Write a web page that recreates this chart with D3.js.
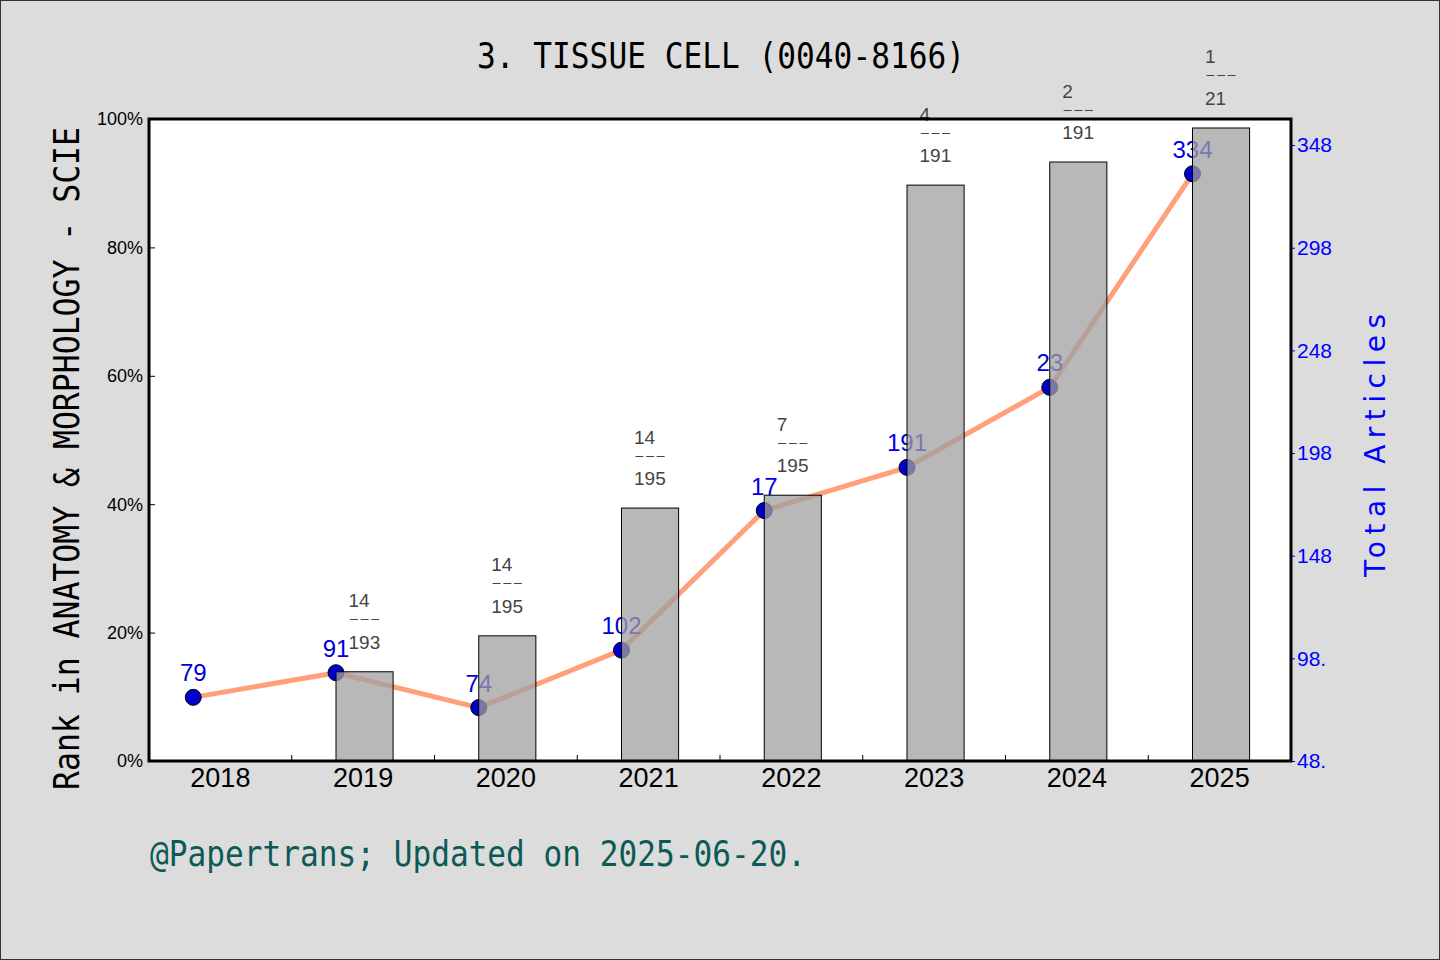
<!DOCTYPE html>
<meta charset="utf-8">
<style>
body { margin: 0; background: #dcdcdc; }
svg { display: block; }
.mono { font-family: "DejaVu Sans Mono", monospace; }
.sans { font-family: "Liberation Sans", Arial, sans-serif; }
</style>
<body>
<script src="https://cdn.jsdelivr.net/npm/d3@7"></script>
<script>

// categories
const years = [2018, 2019, 2020, 2021, 2022, 2023, 2024, 2025];
// bar height, % (left axis)
const rankPct = [0, 13.9, 19.5, 39.4, 41.4, 89.7, 93.3, 98.6];
// rank / total in category, shown above bars
const rankPos   = [null, 14, 14, 14, 7, 4, 2, 1];
const rankTotal = [null, 193, 195, 195, 195, 191, 191, 21];
// total articles (right axis), and the label texts as printed
const articles    = [79, 91, 74, 102, 170, 191, 230, 334];
const articleText = ["79", "91", "74", "102", "17", "191", "23", "334"];
// tick values
const leftTicks  = [0, 20, 40, 60, 80, 100];
const rightTicks = [48, 98, 148, 198, 248, 298, 348];

const W = 1440, H = 960;
const plot = {left: 149, right: 1291, top: 119, bottom: 761};

const svg = d3.select("body").append("svg")
    .attr("width", W)
    .attr("height", H);

svg.append("rect")
    .attr("x", 0.5).attr("y", 0.5)
    .attr("width", W - 1).attr("height", H - 1)
    .attr("fill", "#dcdcdc")
    .attr("stroke", "#333");

var x  = d3.scaleBand().domain(years).range([plot.left, plot.right]).padding(0);
var yL = d3.scaleLinear().domain([0, 100]).range([plot.bottom, plot.top]);
var yR = d3.scaleLinear().domain([48, 360.7]).range([plot.bottom, plot.top]);

var bw = x.bandwidth();
var cx = d => x(d) + bw / 2;
var px = d => cx(d) - 0.19 * bw;   // line points sit on bar left edge

// plot area
svg.append("rect")
    .attr("x", plot.left).attr("y", plot.top)
    .attr("width", plot.right - plot.left)
    .attr("height", plot.bottom - plot.top)
    .attr("fill", "#fff");

// left axis (ticks inside)
var leftAxis = d3.axisRight(yL)
    .tickValues(leftTicks)
    .tickSize(6)
    .tickFormat(d => "");
svg.append("g")
    .attr("transform", "translate(" + plot.left + ",0)")
    .call(leftAxis)
    .call(g => g.select(".domain").remove());

svg.append("g").selectAll("text")
    .data(leftTicks)
    .enter().append("text")
    .attr("class", "sans")
    .attr("x", plot.left - 6)
    .attr("y", d => yL(d))
    .attr("dy", "0.35em")
    .attr("text-anchor", "end")
    .style("font-size", "18px")
    .text(d => d + "%");

// right axis (ticks outside, blue)
var rightAxis = d3.axisRight(yR)
    .tickValues(rightTicks)
    .tickSize(4)
    .tickPadding(2)
    .tickFormat(d => (d.toFixed(1)).slice(0, 3));
var ra = svg.append("g")
    .attr("transform", "translate(" + plot.right + ",0)")
    .call(rightAxis);
ra.select(".domain").remove();
ra.selectAll("line").attr("stroke", "blue");
ra.selectAll("text")
    .attr("class", "sans")
    .attr("fill", "blue")
    .style("font-size", "21px");

// x axis: minor ticks between years, labels centred
svg.append("g").selectAll("line")
    .data(years.slice(1))
    .enter().append("line")
    .attr("x1", d => x(d)).attr("x2", d => x(d))
    .attr("y1", plot.bottom).attr("y2", plot.bottom - 6)
    .attr("stroke", "#000");

svg.append("g").selectAll("text")
    .data(years)
    .enter().append("text")
    .attr("class", "sans")
    .attr("x", d => cx(d))
    .attr("y", 787)
    .attr("text-anchor", "middle")
    .style("font-size", "27px")
    .text(d => d);

// line of total articles
var pts = years.map((d, i) => ({year: d, v: articles[i], t: articleText[i]}));

svg.append("path")
    .datum(pts)
    .attr("fill", "none")
    .attr("stroke", "#ffa07a")
    .attr("stroke-width", 5)
    .attr("d", d3.line().x(d => px(d.year)).y(d => yR(d.v)));

svg.append("g").selectAll("circle")
    .data(pts)
    .enter().append("circle")
    .attr("cx", d => px(d.year))
    .attr("cy", d => yR(d.v))
    .attr("r", 8)
    .attr("fill", "#0000cc")
    .attr("stroke", "#000")
    .attr("stroke-width", 1);

svg.append("g").selectAll("text")
    .data(pts)
    .enter().append("text")
    .attr("class", "sans")
    .attr("x", d => px(d.year))
    .attr("y", d => yR(d.v) - 16)
    .attr("text-anchor", "middle")
    .attr("fill", "#0000dd")
    .style("font-size", "24px")
    .text(d => d.t);

// bars drawn over the line, semi transparent
var bars = years.map((d, i) => ({year: d, v: rankPct[i], r: rankPos[i], n: rankTotal[i]}))
    .filter(d => d.v > 0);

svg.append("g").selectAll("rect")
    .data(bars)
    .enter().append("rect")
    .attr("x", d => px(d.year))
    .attr("y", d => yL(d.v))
    .attr("width", 0.4 * bw)
    .attr("height", d => yL(0) - yL(d.v))
    .attr("fill", "#a0a0a0")
    .attr("fill-opacity", 0.75)
    .attr("stroke", "#000")
    .attr("stroke-width", 1);

// rank labels above bars: rank, dashes, total
var lab = svg.append("g").selectAll("g")
    .data(bars)
    .enter().append("g")
    .attr("class", "sans")
    .attr("transform", d => "translate(" + (px(d.year) + 0.2 * bw - 16) + "," + (yL(d.v) - 23) + ")")
    .attr("fill", "#444");

lab.append("text").attr("y", -41.5)
    .style("font-size", "19px")
    .text(d => d.r);
lab.append("text").attr("y", -25.5)
    .style("font-size", "12px")
    .attr("textLength", 32).attr("lengthAdjust", "spacingAndGlyphs")
    .text("---");
lab.append("text").attr("y", 0)
    .style("font-size", "19px")
    .text(d => d.n);

// frame
svg.append("rect")
    .attr("x", plot.left).attr("y", plot.top)
    .attr("width", plot.right - plot.left)
    .attr("height", plot.bottom - plot.top)
    .attr("fill", "none")
    .attr("stroke", "#000")
    .attr("stroke-width", 3);

// titles
svg.append("text")
    .attr("class", "mono")
    .attr("x", 721).attr("y", 68)
    .attr("text-anchor", "middle")
    .attr("textLength", 488).attr("lengthAdjust", "spacingAndGlyphs")
    .style("font-size", "35px")
    .text("3. TISSUE CELL (0040-8166)");

svg.append("text")
    .attr("class", "mono")
    .attr("transform", "translate(79,458.5) rotate(-90)")
    .attr("text-anchor", "middle")
    .attr("textLength", 663).attr("lengthAdjust", "spacingAndGlyphs")
    .style("font-size", "35px")
    .text("Rank in ANATOMY & MORPHOLOGY - SCIE");

svg.append("text")
    .attr("transform", "translate(1385,445.5) rotate(-90)")
    .attr("text-anchor", "middle")
    .attr("textLength", 263).attr("lengthAdjust", "spacing")
    .attr("fill", "blue")
    .style("font-family", "'DejaVu Sans', sans-serif")
    .style("font-size", "28px")
    .text("Total Articles");

svg.append("text")
    .attr("class", "mono")
    .attr("x", 150).attr("y", 866)
    .attr("textLength", 656).attr("lengthAdjust", "spacingAndGlyphs")
    .attr("fill", "#0b5a55")
    .style("font-size", "35px")
    .text("@Papertrans; Updated on 2025-06-20.");

</script>
</body>
